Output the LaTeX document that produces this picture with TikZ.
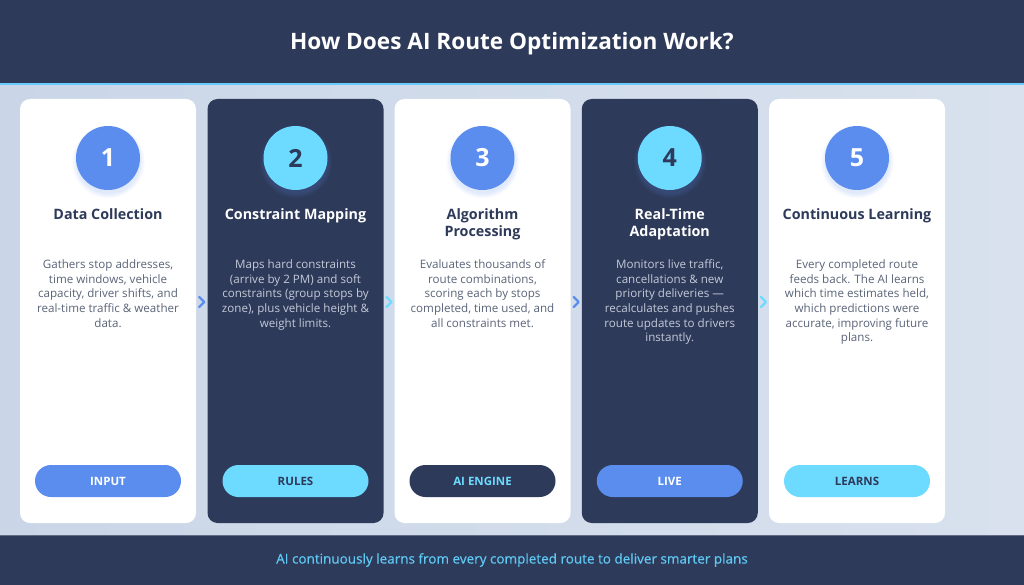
\documentclass[tikz,border=0pt]{standalone}
\usepackage{fontspec}
\setmainfont{Open Sans}
\usetikzlibrary{calc,shadows}

\definecolor{navy}{HTML}{2E3A5A}
\definecolor{stepblue}{HTML}{5B8DEE}
\definecolor{stepcyan}{HTML}{6DDAFF}
\definecolor{bgleft}{HTML}{CAD6E8}
\definecolor{bgright}{HTML}{D8E1ED}
\definecolor{descgrey}{HTML}{5A6478}
\definecolor{desclight}{HTML}{C3CAD8}
\definecolor{footcyan}{HTML}{5FC9F3}

\tikzset{every picture/.style={line width=0.75pt}}

\begin{document}
\begin{tikzpicture}[x=1pt,y=1pt,yscale=-1,xscale=1,
  card/.style={rounded corners=10pt,minimum width=176pt,minimum height=424pt,inner sep=0pt},
  numdisc/.style={circle,minimum size=64pt,inner sep=0pt,font=\bfseries\fontsize{25}{25}\selectfont,
    circular drop shadow={shadow xshift=0pt,shadow yshift=-3pt,shadow scale=1.15,fill=stepblue,opacity=0.18}},
  cardtitle/.style={anchor=north,align=center,inner sep=0pt,font=\bfseries\fontsize{14.3}{17.6}\selectfont},
  carddesc/.style={anchor=north,align=center,inner sep=0pt,font=\fontsize{11.6}{14.6}\selectfont},
  pill/.style={rounded corners=16pt,minimum width=146pt,minimum height=32pt,inner sep=0pt,font=\bfseries\fontsize{11.5}{12}\selectfont},
  chev/.style={line width=2.3pt,line cap=round,line join=round}]
\path[use as bounding box] (0,0) rectangle (1024,585);

%Background
\shade[left color=bgleft,right color=bgright] (0,0) rectangle (1024,585);

%Header
\fill[navy] (0,0) rectangle (1024,83);
\fill[stepcyan!80!stepblue] (0,83) rectangle (1024,85.5);
% Text Node
\node[text=white,font=\bfseries\fontsize{22.6}{26}\selectfont] (heading) at (512,44) {How Does AI Route Optimization Work?};

%Footer
\fill[navy] (0,534.5) rectangle (1024,585);
\draw[navy!75!white,line width=0.8pt] (0,535) -- (1024,535);
% Text Node
\node[text=footcyan,font=\fontsize{13.5}{16}\selectfont\addfontfeature{FakeBold=0.4}] (footline) at (512,560) {AI continuously learns from every completed route to deliver smarter plans};

%Card 1
\node[card,fill=white] (c1) at (108,311) {};
\node[numdisc,fill=stepblue,text=white] (n1) at (108,158) {1};
% Text Node
\node[cardtitle,text=navy] (t1) at (108,208) {Data Collection};
% Text Node
\node[carddesc,text=descgrey] (d1) at (108,259.5) {Gathers stop addresses,\\time windows, vehicle\\capacity, driver shifts, and\\real-time traffic \& weather\\data.};
\node[pill,fill=stepblue,text=white] (p1) at (108,481) {INPUT};

%Card 2
\node[card,fill=navy] (c2) at (295.5,311) {};
\node[numdisc,fill=stepcyan,text=navy] (n2) at (295.5,158) {2};
% Text Node
\node[cardtitle,text=white] (t2) at (295.5,208) {Constraint Mapping};
% Text Node
\node[carddesc,text=desclight] (d2) at (295.5,259.5) {Maps hard constraints\\(arrive by 2 PM) and soft\\constraints (group stops by\\zone), plus vehicle height \&\\weight limits.};
\node[pill,fill=stepcyan,text=navy] (p2) at (295.5,481) {RULES};

%Card 3
\node[card,fill=white] (c3) at (482.5,311) {};
\node[numdisc,fill=stepblue,text=white] (n3) at (482.5,158) {3};
% Text Node
\node[cardtitle,text=navy] (t3) at (482.5,208) {Algorithm\\Processing};
% Text Node
\node[carddesc,text=descgrey] (d3) at (482.5,259.5) {Evaluates thousands of\\route combinations,\\scoring each by stops\\completed, time used, and\\all constraints met.};
\node[pill,fill=navy,text=stepcyan] (p3) at (482.5,481) {AI ENGINE};

%Card 4
\node[card,fill=navy] (c4) at (669.75,311) {};
\node[numdisc,fill=stepcyan,text=navy] (n4) at (669.75,158) {4};
% Text Node
\node[cardtitle,text=white] (t4) at (669.75,208) {Real-Time\\Adaptation};
% Text Node
\node[carddesc,text=desclight] (d4) at (669.75,259.5) {Monitors live traffic,\\cancellations \& new\\priority deliveries ---\\recalculates and pushes\\route updates to drivers\\instantly.};
\node[pill,fill=stepblue,text=white] (p4) at (669.75,481) {LIVE};

%Card 5
\node[card,fill=white] (c5) at (857,311) {};
\node[numdisc,fill=stepblue,text=white] (n5) at (857,158) {5};
% Text Node
\node[cardtitle,text=navy] (t5) at (857,208) {Continuous Learning};
% Text Node
\node[carddesc,text=descgrey] (d5) at (857,259.5) {Every completed route\\feeds back. The AI learns\\which time estimates held,\\which predictions were\\accurate, improving future\\plans.};
\node[pill,fill=stepcyan,text=navy] (p5) at (857,481) {LEARNS};

%Chevrons between cards
\coordinate (a12) at ($(c1.east)!0.5!(c2.west)+(0,-9)$);
\coordinate (a23) at ($(c2.east)!0.5!(c3.west)+(0,-9)$);
\coordinate (a34) at ($(c3.east)!0.5!(c4.west)+(0,-9)$);
\coordinate (a45) at ($(c4.east)!0.5!(c5.west)+(0,-9)$);
\draw[chev,stepblue] ($(a12)+(-2.5,-5)$) -- ($(a12)+(2.5,0)$) -- ($(a12)+(-2.5,5)$);
\draw[chev,stepcyan] ($(a23)+(-2.5,-5)$) -- ($(a23)+(2.5,0)$) -- ($(a23)+(-2.5,5)$);
\draw[chev,stepblue] ($(a34)+(-2.5,-5)$) -- ($(a34)+(2.5,0)$) -- ($(a34)+(-2.5,5)$);
\draw[chev,stepcyan] ($(a45)+(-2.5,-5)$) -- ($(a45)+(2.5,0)$) -- ($(a45)+(-2.5,5)$);

\end{tikzpicture}
\end{document}
